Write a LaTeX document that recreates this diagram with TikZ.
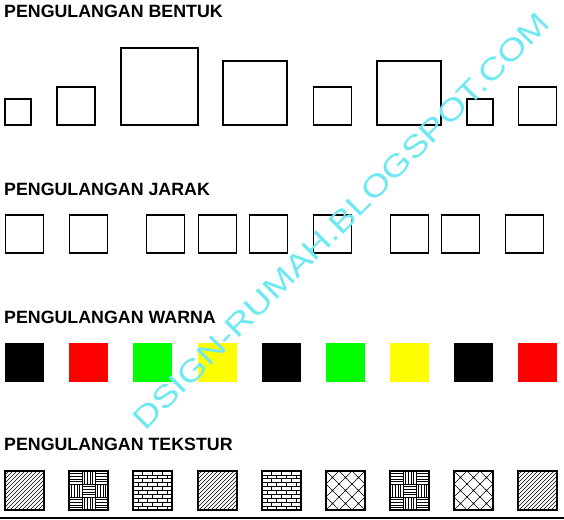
\documentclass[tikz,border=0pt]{standalone}
\usepackage{graphicx}
\usepackage{fontspec}
\setmainfont{Liberation Sans}
\definecolor{wmcyan}{RGB}{110,232,242}
\definecolor{hijau}{RGB}{0,255,0}
\definecolor{kuning}{RGB}{255,255,0}
\definecolor{merah}{RGB}{255,0,0}
\tikzset{
  kotak/.style={draw,line width=1.2pt,inner sep=0pt,outer sep=0pt},
  warna/.style={inner sep=0pt,outer sep=0pt,minimum size=39pt},
  judul/.style={anchor=base west,inner sep=0pt,font=\bfseries\fontsize{17.8}{17.8}\selectfont},
  garis/.style={line width=.55pt},
  bingkai/.style={line width=1.2pt},
  pics/arsir/.style={code={
    \begin{scope}
    \clip (0,0) rectangle (39,39);
    \foreach \i in {-39,-35,...,39} \draw[garis] (\i,39) -- ++(39,-39);
    \end{scope}
    \draw[bingkai] (0,0) rectangle (39,39);
  }},
  pics/parket/.style={code={
    \foreach \i in {0,1,2} \foreach \j in {0,1,2} {
      \pgfmathtruncatemacro\arah{mod(\i+\j,2)}
      \ifnum\arah=0
        \foreach \m in {1,...,4} \draw[garis] (\i*13,\j*13+\m*2.6) -- ++(13,0);
      \else
        \foreach \m in {1,...,4} \draw[garis] (\i*13+\m*2.6,\j*13) -- ++(0,13);
      \fi
      \draw[line width=.8pt] (\i*13,\j*13) rectangle ++(13,13);
    }
    \draw[bingkai] (0,0) rectangle (39,39);
  }},
  pics/bata/.style={code={
    \begin{scope}
    \clip (0,0) rectangle (39,39);
    \foreach \k in {1,...,9} \draw[line width=.7pt] (0,\k*3.9) -- (39,\k*3.9);
    \foreach \k in {0,...,9} \foreach \j in {0,...,4}
      \draw[line width=.7pt] ({mod(\k,2)*4.9+\j*9.75},\k*3.9) -- ++(0,3.9);
    \end{scope}
    \draw[bingkai] (0,0) rectangle (39,39);
  }},
  pics/jaring/.style={code={
    \begin{scope}
    \clip (0,0) rectangle (39,39);
    \foreach \i in {-39,-26,...,39} {
      \draw[garis] (\i,39) -- ++(39,-39);
      \draw[garis] (\i,0) -- ++(39,39);
    }
    \end{scope}
    \foreach \p in {13,26} \foreach \q in {13,26} \fill (\p,\q) circle (0.9);
    \foreach \p in {6.5,19.5,32.5} \foreach \q in {6.5,19.5,32.5} \fill (\p,\q) circle (0.9);
    \draw[bingkai] (0,0) rectangle (39,39);
  }}
}
\begin{document}
\begin{tikzpicture}[x=1pt,y=-1pt]
\useasboundingbox (0,0) rectangle (564,519);
% pengulangan bentuk
\node[judul] (bentuk) at (4,17.5) {PENGULANGAN BENTUK};
\node[kotak,minimum size=26pt] (bentuk1) at (18,112) {};
\node[kotak,minimum size=38pt] (bentuk2) at (76,106) {};
\node[kotak,minimum size=77pt] (bentuk3) at (159.5,86.5) {};
\node[kotak,minimum size=64pt] (bentuk4) at (255,93) {};
\node[kotak,minimum size=38pt] (bentuk5) at (332.5,106) {};
\node[kotak,minimum size=64pt] (bentuk6) at (409,93) {};
\node[kotak,minimum size=26pt] (bentuk7) at (480,112) {};
\node[kotak,minimum size=38pt] (bentuk8) at (537.5,106) {};
% pengulangan jarak
\node[judul] (jarak) at (4,195) {PENGULANGAN JARAK};
\node[kotak,minimum size=38pt] (jarak1) at (24.5,234) {};
\node[kotak,minimum size=38pt] (jarak2) at (88.5,234) {};
\node[kotak,minimum size=38pt] (jarak3) at (165.5,234) {};
\node[kotak,minimum size=38pt] (jarak4) at (217.5,234) {};
\node[kotak,minimum size=38pt] (jarak5) at (268.5,234) {};
\node[kotak,minimum size=38pt] (jarak6) at (332.5,234) {};
\node[kotak,minimum size=38pt] (jarak7) at (409.5,234) {};
\node[kotak,minimum size=38pt] (jarak8) at (460.5,234) {};
\node[kotak,minimum size=38pt] (jarak9) at (524.5,234) {};
% pengulangan warna
\node[judul] (warna) at (4,323) {PENGULANGAN WARNA};
\node[warna,fill=black] (warna1) at (24.5,362.5) {};
\node[warna,fill=merah] (warna2) at (88.5,362.5) {};
\node[warna,fill=hijau] (warna3) at (152.5,362.5) {};
\node[warna,fill=kuning] (warna4) at (217.5,362.5) {};
\node[warna,fill=black] (warna5) at (281.5,362.5) {};
\node[warna,fill=hijau] (warna6) at (345.5,362.5) {};
\node[warna,fill=kuning] (warna7) at (409.5,362.5) {};
\node[warna,fill=black] (warna8) at (473.5,362.5) {};
\node[warna,fill=merah] (warna9) at (537.5,362.5) {};
% pengulangan tekstur
\node[judul] (tekstur) at (4,450) {PENGULANGAN TEKSTUR};
\pic (tekstur1) at (5,471) {arsir};
\pic (tekstur2) at (69,471) {parket};
\pic (tekstur3) at (133,471) {bata};
\pic (tekstur4) at (198,471) {arsir};
\pic (tekstur5) at (262,471) {bata};
\pic (tekstur6) at (326,471) {jaring};
\pic (tekstur7) at (390,471) {parket};
\pic (tekstur8) at (454,471) {jaring};
\pic (tekstur9) at (518,471) {arsir};
\draw[line width=1.5pt] (0,517.8) -- (564,517.8);
% watermark
\node[anchor=base west,rotate=45,inner sep=0pt,text=wmcyan,font=\fontsize{30.5}{30.5}\selectfont] (tanda) at (145,432) {\scalebox{1.22}[1]{DSIGN-RUMAH.BLOGSPOT.COM}};
\end{tikzpicture}
\end{document}
